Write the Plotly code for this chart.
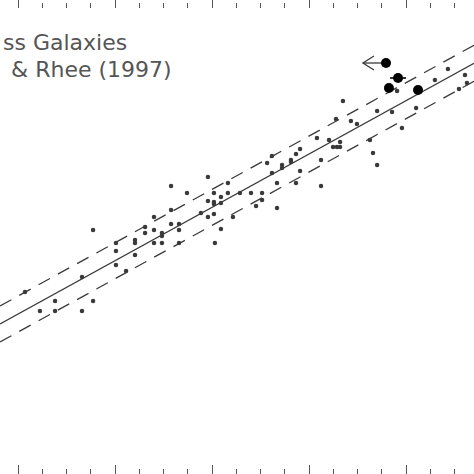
import plotly.graph_objects as go

# Broeils & Rhee (1997) sample: log D_HI vs log M_HI
sample_logd = [
    0.536, 0.613, 0.691, 0.691, 0.830, 0.830, 0.887, 0.887, 1.005, 1.005,
    1.005, 1.057, 1.103, 1.103, 1.103, 1.155, 1.155, 1.201, 1.201, 1.201,
    1.242, 1.242, 1.242, 1.289, 1.289, 1.289, 1.330, 1.330, 1.330, 1.371,
    1.443, 1.479, 1.479, 1.479, 1.510, 1.510, 1.510, 1.510, 1.515, 1.546,
    1.546, 1.546, 1.582, 1.582, 1.608, 1.644, 1.701, 1.727, 1.758, 1.758,
    1.784, 1.809, 1.809, 1.835, 1.835, 1.861, 1.861, 1.907, 1.907, 1.933,
    1.933, 1.954, 1.954, 2.041, 2.062, 2.062, 2.103, 2.124, 2.144, 2.160,
    2.160, 2.139, 2.175, 2.216, 2.247, 2.314, 2.330, 2.351, 2.351, 2.428,
    2.454, 2.479, 2.552, 2.649, 2.716, 2.773, 2.804, 2.814,
]
sample_logm = [
    8.08, 7.89, 7.99, 7.89, 8.23, 7.89, 7.99, 8.70, 8.57, 8.49,
    8.35, 8.29, 8.60, 8.57, 8.45, 8.73, 8.67, 8.83, 8.70, 8.57,
    8.67, 8.64, 8.57, 9.14, 8.90, 8.76, 8.76, 8.70, 8.57, 9.07,
    8.87, 9.23, 8.99, 8.83, 9.07, 8.98, 8.96, 8.86, 8.57, 9.03,
    8.97, 8.71, 9.17, 9.07, 8.83, 9.07, 9.07, 8.94, 9.07, 9.00,
    9.37, 9.44, 9.27, 9.17, 8.92, 9.35, 9.32, 9.40, 9.38, 9.46,
    9.17, 9.51, 9.29, 9.62, 9.40, 9.14, 9.60, 9.53, 9.53, 9.53,
    9.58, 9.81, 9.99, 9.79, 9.76, 9.60, 9.47, 9.35, 9.89, 9.88,
    10.09, 9.72, 9.92, 10.20, 10.31, 10.11, 10.25, 10.17,
]

# the massive galaxies (first one is an upper limit in diameter)
massive_logd = [2.397, 2.459, 2.412, 2.562]
massive_logm = [10.37, 10.22, 10.12, 10.10]
massive_err = [0.0, 0.041, 0.0, 0.0]
limit_index = 0
limit_length = 0.119

# fitted relation and its scatter
fit_slope = 1.067
fit_intercept = 7.3255
fit_scatter = 0.18

x_range = [0.4072, 2.8505]
y_range = [6.26, 10.91]

INK = "#3a3a3a"
TICK = "#555"


def fit_line(offset: float) -> list[float]:
    return [fit_intercept + fit_slope * x + offset for x in x_range]


fig = go.Figure()

fig.add_trace(go.Scatter(x=x_range, y=fit_line(0.0), mode="lines",
                         line=dict(color=INK, width=1.3)))
for off in (fit_scatter, -fit_scatter):
    fig.add_trace(go.Scatter(x=x_range, y=fit_line(off), mode="lines",
                             line=dict(color=INK, width=1.3, dash="13px,9px")))

fig.add_trace(go.Scatter(x=sample_logd, y=sample_logm, mode="markers",
                         marker=dict(color=INK, size=4.5)))

# upper limit arrow: open chevron pointing to smaller diameter
lx = massive_logd[limit_index]
ly = massive_logm[limit_index]
tip = lx - limit_length
head_dx = 0.057
head_dy = 0.07
fig.add_trace(go.Scatter(
    x=[lx, tip, None, tip + head_dx, tip, tip + head_dx],
    y=[ly, ly, None, ly + head_dy, ly, ly - head_dy],
    mode="lines", line=dict(color=INK, width=1.3),
))

fig.add_trace(go.Scatter(
    x=massive_logd, y=massive_logm, mode="markers",
    marker=dict(color="black", size=10),
    error_x=dict(type="data", array=massive_err, visible=True,
                 color="black", thickness=1.6, width=0),
))

# invisible traces so the top tick axes get drawn
for ax in ("x2", "x3"):
    fig.add_trace(go.Scatter(x=x_range, y=fit_line(0.0), xaxis=ax, mode="lines",
                             line=dict(color="rgba(0,0,0,0)"), hoverinfo="skip"))

# the legend text is cropped at the left edge in the source, keep the visible part
fig.add_annotation(text="ss Galaxies", xref="paper", yref="paper",
                   x=1 / 474, y=0.927, xanchor="left", yanchor="middle",
                   showarrow=False, font=dict(family="DejaVu Sans", size=22, color="#555"))
fig.add_annotation(text="& Rhee (1997)", xref="paper", yref="paper",
                   x=9 / 474, y=0.8705, xanchor="left", yanchor="middle",
                   showarrow=False, font=dict(family="DejaVu Sans", size=22, color="#555"))

base = dict(range=x_range, showgrid=False, zeroline=False, showticklabels=False,
            tickwidth=1.2, tickcolor=TICK)

fig.update_layout(
    width=474, height=474, margin=dict(l=0, r=0, t=9, b=0),
    plot_bgcolor="white", paper_bgcolor="white", showlegend=False,
    xaxis=dict(base, ticks="inside", ticklen=9, tick0=0.5, dtick=0.5,
               minor=dict(ticks="inside", ticklen=5, tickwidth=1.2,
                          tickcolor=TICK, dtick=0.125)),
    xaxis2=dict(base, overlaying="x", side="top", ticks="outside",
                ticklen=9, tick0=0.5, dtick=0.5),
    xaxis3=dict(base, overlaying="x", side="top", ticks="outside",
                ticklen=5, tick0=0.5, dtick=0.125),
    yaxis=dict(range=y_range, showgrid=False, zeroline=False,
               showticklabels=False, ticks=""),
)

fig.write_html("out.html", config={"displayModeBar": False},
               post_script="document.body.style.margin = '0';")
